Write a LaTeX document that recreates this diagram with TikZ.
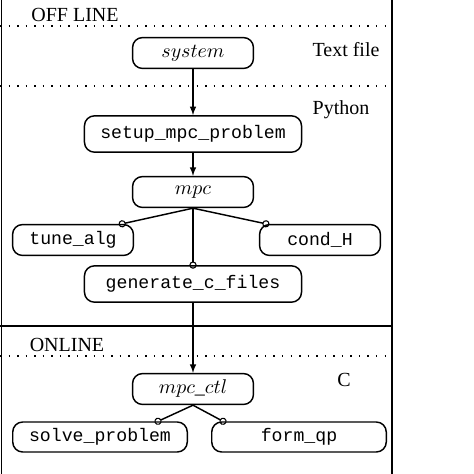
\documentclass[tikz,border=0pt]{standalone}
\usepackage{fontspec}
\setmainfont{Liberation Serif}
\setmonofont{Liberation Mono}
\usetikzlibrary{arrows,arrows.meta}

\tikzset{
	block/.style={draw,rounded corners=5.5pt,line width=0.8pt,minimum height=17pt,inner sep=2pt},
	lane/.style={dash pattern=on 0.8pt off 3.9pt,line width=0.8pt},
	tag/.style={font=\fontsize{11}{13}\selectfont},
	hook/.style={-{Circle[open,length=4pt,width=4pt,line width=0.6pt]},shorten >=-2pt,line width=0.8pt}
}

\begin{document}
\begin{tikzpicture}[x=0.55pt,y=-0.55pt]
	\useasboundingbox (0,0) rectangle (474,474);

	% frame and lanes
	\draw[line width=1pt] (1.5,0) -- (1.5,474);
	\draw[line width=1pt] (392,0) -- (392,474);
	\draw[line width=0.8pt] (0,326) -- (392,326);
	\draw[lane] (0,26) -- (392,26);
	\draw[lane] (0,86) -- (392,86);
	\draw[lane] (0,356) -- (392,356);

	\node[tag](offline) at (75,15) {OFF LINE};
	\node[tag](textfile) at (346,50) {Text file};
	\node[tag](python) at (341,110) {Python};
	\node[tag](online) at (67,345) {ONLINE};
	\node[tag](clang) at (344,380) {C};

	\node[block,tag,minimum width=66.5pt](system) at (193,53) {$system$};
	\node[block,minimum width=119.4pt,minimum height=20pt](setup) at (193,134) {\texttt{setup\_mpc\_problem}};
	\node[block,tag,minimum width=66.5pt](mpc) at (193,192) {$mpc$};
	\node[block,minimum width=66.5pt](tune) at (73,240) {\texttt{tune\_alg}};
	\node[block,minimum width=66.5pt](cond) at (320,240) {\texttt{cond\_H}};
	\node[block,minimum width=119.4pt,minimum height=20pt](generate) at (193,284) {\texttt{generate\_c\_files}};
	\node[block,tag,minimum width=66.5pt](mpcctl) at (193,389) {$mpc\_ctl$};
	\node[block,minimum width=96pt,minimum height=16.5pt](solve) at (100,437) {\texttt{solve\_problem}};
	\node[block,minimum width=96pt,minimum height=16.5pt](formqp) at (299,437) {\texttt{form\_qp}};

	\draw[-latex,line width=0.6pt] (system) -- (setup);
	\draw[-latex,line width=0.6pt] (setup) -- (mpc);
	\draw[-latex,line width=0.6pt] (generate) -- (mpcctl);
	\draw[hook] (mpc.south) -- ([xshift=-6.6pt]tune.north east);
	\draw[hook] (mpc.south) -- ([xshift=3.9pt]cond.north west);
	\draw[hook] (mpc.south) -- (generate.north);
	\draw[hook] (mpcctl.south) -- ([xshift=-16.5pt]solve.north east);
	\draw[hook] (mpcctl.south) -- ([xshift=6.6pt]formqp.north west);
\end{tikzpicture}
\end{document}
